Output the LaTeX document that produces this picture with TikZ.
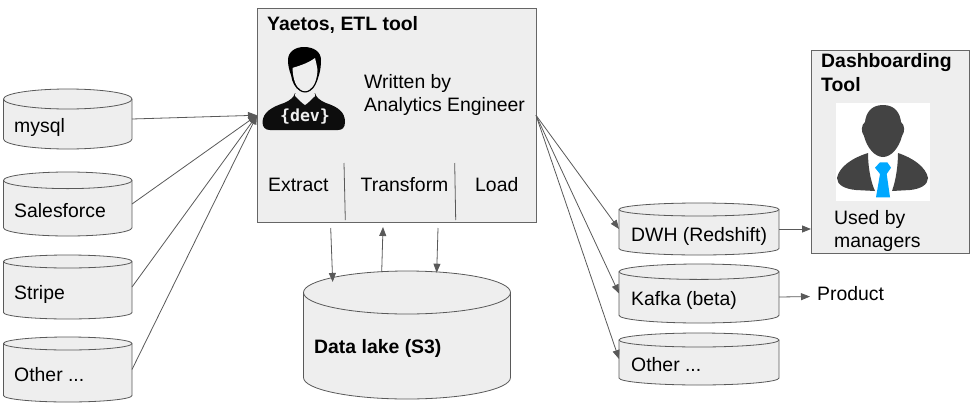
\documentclass[tikz,border=0pt]{standalone}
\usepackage{fontspec}
\setmainfont{Liberation Sans}
\newfontfamily\devfont{DejaVu Sans Mono}
\usepackage{xcolor}
\usetikzlibrary{positioning,arrows.meta}
\definecolor{boxfill}{HTML}{EEEEEE}
\definecolor{edgegray}{HTML}{595959}
\definecolor{toolgray}{HTML}{666666}
\definecolor{mgrgray}{HTML}{434343}
\definecolor{tieblue}{HTML}{00A8FF}

% name, x, y, width, height, depth of the lid
\newcommand{\storage}[6]{%
  \node[rectangle,inner sep=0pt,outer sep=0pt,minimum width=#4pt,minimum height=#5pt] (#1) at (#2,#3) {};
  \draw[store] ([yshift=-#6pt]#1.north west) arc[start angle=180,end angle=0,x radius=0.5*#4pt,y radius=#6pt]
    -- ([yshift=#6pt]#1.south east) arc[start angle=0,end angle=-180,x radius=0.5*#4pt,y radius=#6pt] -- cycle;
  \draw[store,fill=none] ([yshift=-#6pt]#1.north west) arc[start angle=180,end angle=360,x radius=0.5*#4pt,y radius=#6pt];
}

\begin{document}
\begin{tikzpicture}[
    x=1pt,y=-1pt,
    store/.style={draw=edgegray,fill=boxfill,line width=0.8pt},
    tool/.style={rectangle,draw=toolgray,fill=boxfill,line width=1pt,inner sep=0pt,outer sep=0pt},
    txt/.style={font=\fontsize{19.4}{23.3}\selectfont,inner sep=0pt,anchor=base west,align=left},
    head/.style={txt,font=\fontsize{19.4}{23.3}\selectfont\bfseries},
    arrow/.style={-{Triangle[length=9pt,width=7pt]},edgegray,line width=0.8pt}
]
\useasboundingbox (0,0) rectangle (980,410);

% sources
\storage{mysql}{67.75}{119}{128.5}{60}{10}
\storage{salesforce}{67.75}{204}{128.5}{64}{8.3}
\storage{stripe}{67.75}{287}{128.5}{64}{6.5}
\storage{other1}{67.75}{369.5}{128.5}{65}{6.5}
\node[txt] (mysqltxt) at (14,132) {mysql};
\node[txt] (salesforcetxt) at (14,217.4) {Salesforce};
\node[txt] (stripetxt) at (14,299.7) {Stripe};
\node[txt] (other1txt) at (14,381.7) {Other ...};

% ETL tool
\node[tool,minimum width=279pt,minimum height=214.5pt] (etl) at (396.5,115.25) {};
\node[head] (etltxt) at (267,30.7) {Yaetos, ETL tool};
\node[txt,anchor=west] (written) at (364,95) {Written by\\Analytics Engineer};
\node[txt] (extract) at (268,191) {Extract};
\node[txt] (transform) at (360.5,191) {Transform};
\node[txt] (load) at (475,191) {Load};
\draw[edgegray,line width=0.8pt] (344,163) -- (345.3,220);
\draw[edgegray,line width=0.8pt] (454.7,163) -- (455.7,220);

% dev
\fill[black!95] (262.5,122) .. controls (263,112) and (272,107) .. (284,103) .. controls (291,100) and (294,97) .. (295,93)
  -- (315,93) .. controls (316,97) and (319,100) .. (326,103) .. controls (338,107) and (345,112) .. (345,122)
  .. controls (345,128) and (342,130) .. (338,130) -- (270,130) .. controls (265,130) and (262.5,127) .. (262.5,122) -- cycle;
\fill[boxfill] (295,96) .. controls (299,100) and (302,103) .. (305,105) .. controls (308,103) and (311,100) .. (315,96) -- (313.5,84) -- (296.5,84) -- cycle;
\fill[black] (288,60) .. controls (288,52) and (295,47) .. (304,47) .. controls (314,47) and (321,52) .. (321,60)
  .. controls (321,65) and (320.5,70) .. (319,75) .. controls (317,82) and (315,88) .. (310,91) .. controls (307,93) and (303,93) .. (300,91)
  .. controls (295,88) and (292,82) .. (291,75) .. controls (289,70) and (288,65) .. (288,60) -- cycle;
\fill[boxfill] (292.5,68) .. controls (298,66) and (307,64) .. (315,58) .. controls (316,62) and (317,66) .. (317.5,70)
  .. controls (317,80) and (314,87) .. (309,90) .. controls (307,91.5) and (303,91.5) .. (301,90) .. controls (296,87) and (293,80) .. (292.5,68) -- cycle;
\node[font=\fontsize{16.6}{17}\selectfont\devfont\bfseries,text=boxfill,inner sep=0pt] (devtxt) at (305,117) {\{dev\}};

% data lake
\storage{lake}{407}{335}{207}{128}{21.5}
\node[head] (laketxt) at (314,353.3) {Data lake (S3)};
\draw[arrow] ([xshift=-65.8pt,yshift=-5.5pt]etl.south) -- ([xshift=-74.3pt,yshift=-11pt]lake.north);
\draw[arrow] ([xshift=-25.3pt,yshift=-1pt]lake.north) -- ([xshift=-13.5pt,yshift=-4.5pt]etl.south);
\draw[arrow] ([xshift=41.5pt,yshift=-5.5pt]etl.south) -- ([xshift=29.7pt,yshift=-1.7pt]lake.north);

% targets
\storage{dwh}{699}{229}{160}{52}{6.5}
\storage{kafka}{699}{293.5}{160}{59}{7.7}
\storage{other2}{699}{359}{160}{52}{7}
\node[txt] (dwhtxt) at (631,241.7) {DWH (Redshift)};
\node[txt] (kafkatxt) at (631,305.5) {Kafka (beta)};
\node[txt] (other2txt) at (631,371) {Other ...};
\node[txt] (product) at (817,300) {Product};

% dashboard
\node[tool,minimum width=158pt,minimum height=203pt] (dash) at (890,151.5) {};
\node[head,anchor=west] (dashtxt) at (821,72.5) {Dashboarding\\Tool};
\node[rectangle,fill=white,inner sep=0pt,minimum width=94pt,minimum height=98pt] (mgr) at (883,152) {};
\fill[mgrgray] (837,178) .. controls (839,167) and (852,158) .. (868,153) .. controls (868,165) and (870,180) .. (875,191)
  -- (856,190) .. controls (845,189) and (837,185) .. (837,178) -- cycle;
\fill[mgrgray] (928,178) .. controls (926,167) and (913,158) .. (898,153) .. controls (898,165) and (896,180) .. (892,191)
  -- (910,190) .. controls (920,189) and (928,185) .. (928,178) -- cycle;
\fill[mgrgray] (883,105) .. controls (871,105) and (866,113) .. (865,122) .. controls (861,125) and (861,132) .. (864,136)
  .. controls (867,148) and (875,157) .. (883,157) .. controls (891,157) and (899,148) .. (902,136) .. controls (905,132) and (905,125) .. (901,122)
  .. controls (900,113) and (895,105) .. (883,105) -- cycle;
\fill[tieblue] (880,162.3) -- (887.3,162.3) -- (891,167.7) -- (886.7,174) -- (890,197.3) -- (876,197.3) -- (880,174) -- (875,167.7) -- cycle;
\node[txt,anchor=west] (usedtxt) at (834,231) {Used by\\managers};

% connectors
\draw[arrow] (mysql.east) -- (etl.west);
\draw[arrow] (salesforce.east) -- (etl.west);
\draw[arrow] (stripe.east) -- (etl.west);
\draw[arrow] (other1.east) -- (etl.west);
\draw[arrow] (etl.east) -- (dwh.west);
\draw[arrow] (etl.east) -- (kafka.west);
\draw[arrow] (etl.east) -- (other2.west);
\draw[arrow] (dwh.east) -- (dwh.east -| dash.west);
\draw[arrow] ([yshift=-3.5pt]kafka.east) -- ([xshift=-7pt,yshift=-3.5pt]product.west);
\end{tikzpicture}
\end{document}
